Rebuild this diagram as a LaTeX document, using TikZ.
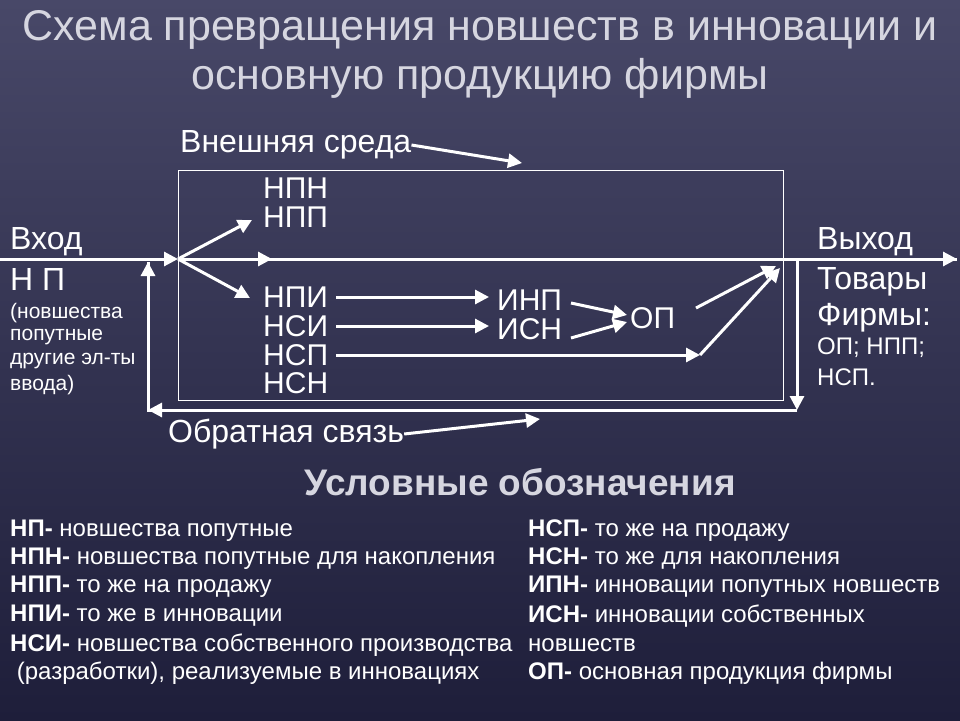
\documentclass[tikz,border=0pt]{standalone}
\usepackage{fontspec}
\setmainfont{Liberation Sans}
\usetikzlibrary{arrows.meta}
\definecolor{bgtop}{RGB}{72,72,104}
\definecolor{bgbot}{RGB}{30,30,58}
\definecolor{ttl}{RGB}{214,214,224}
\tikzset{
 ar/.style={draw=white,line width=3pt,-{Triangle[length=14pt,width=14pt]}},
 ln/.style={draw=white,line width=3pt},
 lb/.style={text=white,font=\fontsize{32}{32}\selectfont,anchor=west,inner sep=0pt},
 ib/.style={text=white,font=\fontsize{30}{30}\selectfont,anchor=west,inner sep=0pt},
 sm/.style={text=white,font=\fontsize{21}{21}\selectfont,anchor=west,inner sep=0pt},
 lg/.style={text=white,font=\fontsize{24}{24}\selectfont,anchor=west,inner sep=0pt},
 tt/.style={text=ttl,font=\fontsize{43}{43}\selectfont,inner sep=0pt},
}
\begin{document}
\begin{tikzpicture}[x=1pt,y=-1pt]
\shade[top color=bgtop,bottom color=bgbot] (0,0) rectangle (960,720);
\useasboundingbox (0,0) rectangle (960,720);
% title
\node[tt] (t1) at (480,30) {Схема превращения новшеств в инновации и};
\node[tt] (t2) at (480,78) {основную продукцию фирмы};
% box
\draw[white,line width=0.8pt] (178,170) rectangle (783,400);
% labels
\node[lb] (vs) at (180,145) {Внешняя среда};
\coordinate (vsE) at (522,163);
\draw[ar] (vs.east) -- (vsE);
\node[lb] (os) at (168,434) {Обратная связь};
\coordinate (osE) at (540,419);
\draw[ar] (os.east) -- (osE);
\node[lb] (vx) at (10,242) {Вход};
\node[lb] (np) at (10,279) {Н П};
\node[sm] (s1) at (10,313) {(новшества};
\node[sm] (s2) at (10,337) {попутные};
\node[sm] (s3) at (10,361) {другие эл-ты};
\node[sm] (s4) at (10,385) {ввода)};
\node[lb] (vy) at (817,242) {Выход};
\node[lb] (tv) at (817,282) {Товары};
\node[lb] (fm) at (817,318) {Фирмы:};
\node[lb,font=\fontsize{24}{24}\selectfont] (r1) at (817,348) {ОП; НПП;};
\node[lb,font=\fontsize{24}{24}\selectfont] (r2) at (817,377) {НСП.};
% inner labels
\node[ib] (npn) at (263,188) {НПН};
\node[ib] (npp) at (263,217) {НПП};
\node[ib] (npi) at (263,297) {НПИ};
\node[ib] (nsi) at (263,326) {НСИ};
\node[ib] (nsp) at (263,355) {НСП};
\node[ib] (nsn) at (263,383) {НСН};
\node[ib] (inp) at (497,300) {ИНП};
\node[ib] (isn) at (497,329) {ИСН};
\node[ib] (op) at (630,318) {ОП};
% main line
\coordinate (L0) at (0,259);
\coordinate (S) at (178,259);
\coordinate (M) at (272,259);
\coordinate (R) at (957,259);
\coordinate (Fd) at (797,259);
\coordinate (Fb) at (797,410);
\coordinate (Fl) at (148,410);
\coordinate (Fu) at (148,262);
\draw[ar] (L0) -- (S);
\draw[ln] (S) -- (R);
\draw[ar] (S) -- (M);
\draw[ar] (S) -- (R);
\draw[ar] (S) -- (252,220);
\draw[ar] (S) -- (250,298);
% feedback
\draw[ar] (Fd) -- (Fb);
\draw[ln] (Fb) -- (Fl) -- (Fu);
\draw[ar] (Fb) -- (Fl);
\draw[ar] (Fl) -- (Fu);
% inner arrows
\draw[ar] (336,297) -- (489,297);
\draw[ar] (336,326) -- (489,326);
\draw[ar] (571,303) -- (627,315);
\draw[ar] (571,338) -- (627,322);
\draw[ar] (696,308) -- (776,266);
\coordinate (bend) at (700,355);
\draw[ar] (336,355) -- (bend);
\draw[ar] (bend) -- (780,268);
% legend
\node[text=ttl,font=\bfseries\fontsize{37}{37}\selectfont,inner sep=0pt] (leg) at (520,482) {Условные обозначения};
\node[lg] (a1) at (10,531) {\textbf{НП-} новшества попутные};
\node[lg] (a2) at (10,559) {\textbf{НПН-} новшества попутные для накопления};
\node[lg] (a3) at (10,587) {\textbf{НПП-} то же на продажу};
\node[lg] (a4) at (10,616) {\textbf{НПИ-} то же в инновации};
\node[lg] (a5) at (10,645) {\textbf{НСИ-} новшества собственного производства};
\node[lg] (a6) at (10,673) {\ (разработки), реализуемые в инновациях};
\node[lg] (b1) at (528,531) {\textbf{НСП-} то же на продажу};
\node[lg] (b2) at (528,559) {\textbf{НСН-} то же для накопления};
\node[lg] (b3) at (528,587) {\textbf{ИПН-} инновации попутных новшеств};
\node[lg] (b4) at (528,616) {\textbf{ИСН-} инновации собственных};
\node[lg] (b5) at (528,645) {новшеств};
\node[lg] (b6) at (528,673) {\textbf{ОП-} основная продукция фирмы};
\end{tikzpicture}
\end{document}
